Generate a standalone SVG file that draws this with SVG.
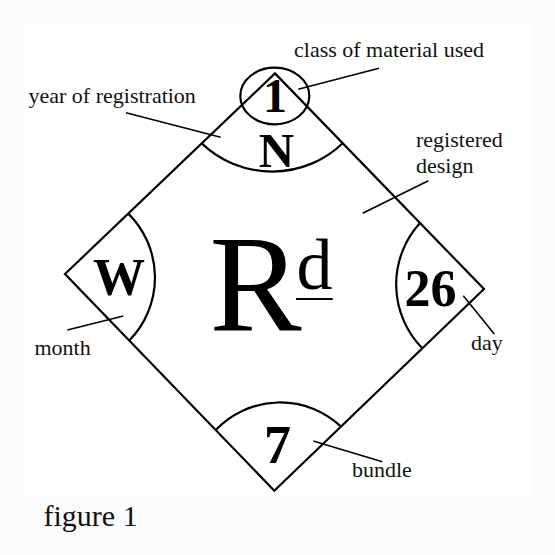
<svg xmlns="http://www.w3.org/2000/svg" width="555" height="555" viewBox="0 0 555 555">
<style>
.ln{fill:none;stroke:#000;stroke-width:2.2;stroke-linejoin:miter}
.ld{fill:none;stroke:#000;stroke-width:1.6}
.lbl{font-family:"Liberation Serif","Times New Roman",serif;font-size:22px;fill:#111}
.big{font-family:"Liberation Serif","Times New Roman",serif;font-weight:bold;fill:#000;text-anchor:middle}
</style>
<rect x="0" y="0" width="555" height="555" fill="#fbfbfb"/>
<rect x="24" y="23" width="508" height="473" fill="#ffffff"/>
<g id="diamond">
<polygon class="ln" points="65,274 275,73.4 484,289 274.3,490.7"/>
</g>
<g id="year">
<path class="ln" d="M201.7,143.4 A102,102 0 0 0 342.7,143.2"/>
<text class="big" x="276.5" y="166.7" font-size="49">N</text>
</g>
<g id="month">
<path class="ln" d="M128.3,213.6 A90,90 0 0 1 129.3,340.5"/>
<text class="big" x="119" y="295" font-size="52">W</text>
</g>
<g id="day">
<path class="ln" d="M420,223 A91,91 0 0 0 422.3,348.2"/>
<text class="big" x="430.5" y="306" font-size="52">26</text>
</g>
<g id="bundle">
<path class="ln" d="M215.7,430 A89,89 0 0 1 341,426.6"/>
<text class="big" x="277.5" y="463" font-size="54">7</text>
</g>
<g id="class">
<ellipse class="ln" cx="274.8" cy="96" rx="34.5" ry="28.3" fill="#ffffff"/>
<text class="big" x="275" y="111.7" font-size="48">1</text>
</g>
<g id="registered-design">
<text x="209.5" y="331" font-family="Liberation Serif, Times New Roman, serif" font-size="138" fill="#000">R<tspan font-size="72" dx="-5" dy="-41.7">d</tspan></text>
<line x1="296" y1="299" x2="332.7" y2="299" stroke="#000" stroke-width="1.8"/>
</g>
<g id="connectors">
<line class="ld" x1="298.3" y1="89.3" x2="379" y2="68.3"/>
<line class="ld" x1="126" y1="112.7" x2="220.7" y2="137.3"/>
<line class="ld" x1="362.7" y1="213.3" x2="428.3" y2="180.7"/>
<line class="ld" x1="67.3" y1="330" x2="123.3" y2="316"/>
<line class="ld" x1="463.3" y1="295.7" x2="494.3" y2="334"/>
<line class="ld" x1="313.3" y1="441" x2="382.3" y2="461.7"/>
</g>
<g id="labels">
<text class="lbl" x="294" y="56.7">class of material used</text>
<text class="lbl" x="28.5" y="102.5">year of registration</text>
<text class="lbl" x="416" y="146.7">registered</text>
<text class="lbl" x="416" y="173.3">design</text>
<text class="lbl" x="34.5" y="355">month</text>
<text class="lbl" x="471" y="350">day</text>
<text class="lbl" x="352" y="477.3">bundle</text>
<text x="43.5" y="525.7" font-family="Liberation Serif, Times New Roman, serif" font-size="30" fill="#111">figure 1</text>
</g>
</svg>
